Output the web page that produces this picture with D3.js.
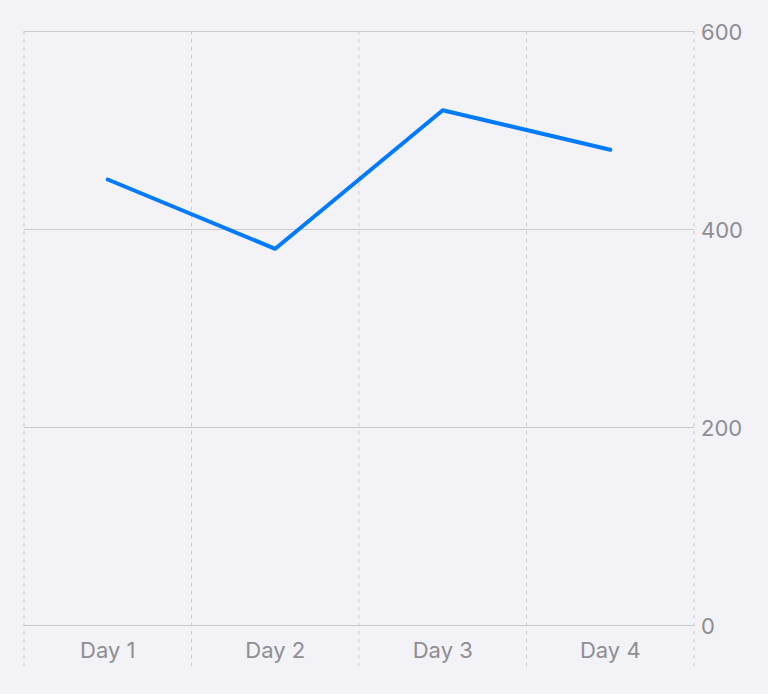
<!DOCTYPE html>
<html>
<head>
<meta charset="utf-8">
<script src="https://cdn.jsdelivr.net/npm/d3@7"></script>
<style>
  html, body { margin: 0; padding: 0; background: #f2f2f7; }
  svg { display: block; }
</style>
</head>
<body>
<div id="chart"></div>
<script>
const w = 768;
const h = 694;

// chart data
const days = ["Day 1", "Day 2", "Day 3", "Day 4"];
const values = [450, 380, 520, 480];
const yTicks = [0, 200, 400, 600];

const plotLeft = 24;
const plotRight = 694;
const plotTop = 31;
const plotBottom = 625;
const font = "Inter, Roboto, sans-serif";

const svg = d3.select("#chart").append("svg").attr("width", w).attr("height", h);

const xScale = d3.scaleBand().domain(days).range([plotLeft, plotRight]).padding(0);
const yScale = d3.scaleLinear().domain([0, 600]).range([plotBottom, plotTop]);

// vertical dashed gridlines at band edges
const edges = days.map((d) => xScale(d)).concat([xScale(days[days.length - 1]) + xScale.bandwidth()]);
svg
  .append("g")
  .selectAll("line")
  .data(edges)
  .enter()
  .append("line")
  .attr("x1", (d) => d)
  .attr("x2", (d) => d)
  .attr("y1", plotTop)
  .attr("y2", 666)
  .attr("stroke", "#c9c9ce")
  .attr("stroke-width", 1)
  .attr("stroke-dasharray", "3.5,4.5");

// horizontal gridlines + right axis labels
const yAxis = d3
  .axisRight(yScale)
  .tickValues(yTicks)
  .tickSize(-(plotRight - plotLeft))
  .tickPadding(7);

svg
  .append("g")
  .attr("transform", `translate(${plotRight}, 0)`)
  .call(yAxis)
  .attr("font-family", font)
  .call((g) => g.select(".domain").remove())
  .call((g) =>
    g.selectAll(".tick line").attr("stroke", "#c9c9ce").attr("stroke-width", 1)
  )
  .call((g) =>
    g
      .selectAll(".tick text")
      .attr("fill", "#8e8e93")
      .attr("dy", "0.4em")
      .style("font-size", "22px")
  );

// x labels
const xAxis = d3.axisBottom(xScale).tickSize(0).tickPadding(17);
svg
  .append("g")
  .attr("transform", `translate(0, ${plotBottom})`)
  .call(xAxis)
  .attr("font-family", font)
  .call((g) => g.select(".domain").remove())
  .call((g) =>
    g
      .selectAll(".tick text")
      .attr("fill", "#8e8e93")
      .style("font-size", "22px")
  );

// the line
const line = d3
  .line()
  .x((d, i) => xScale(days[i]) + xScale.bandwidth() / 2)
  .y((d) => yScale(d));

svg
  .append("path")
  .datum(values)
  .attr("fill", "none")
  .attr("stroke", "#007aff")
  .attr("stroke-width", 4)
  .attr("stroke-linecap", "round")
  .attr("stroke-linejoin", "round")
  .attr("d", line);
</script>
</body>
</html>
